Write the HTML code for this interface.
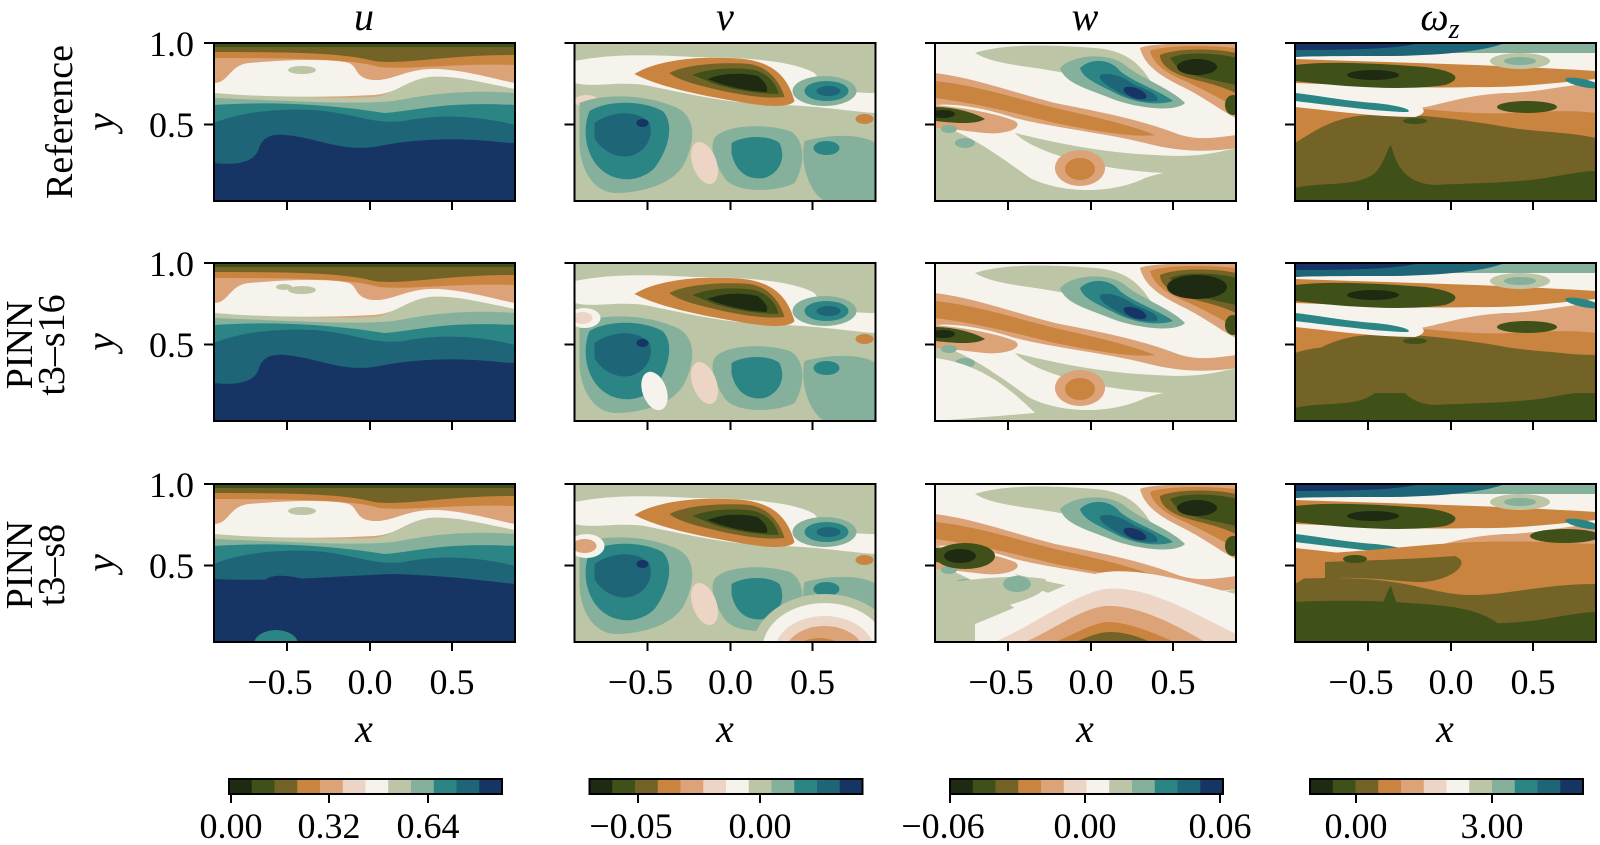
<!DOCTYPE html>
<html><head><meta charset="utf-8"><style>
html,body{margin:0;padding:0;background:#fff;}
svg{display:block;}
.a0{fill:#1f2a12}.a1{fill:#3f5019}.a2{fill:#746326}.a3{fill:#c9843f}.a4{fill:#dca278}.a5{fill:#ecd5c5}.a6{fill:#f6f2ec}.a7{fill:#bcc5a5}.a8{fill:#84b09c}.a9{fill:#2b8585}.a10{fill:#1e6577}.a11{fill:#163564}
text{font-family:"Liberation Serif",serif;fill:#000;}
.t{font-size:36px;}
.i{font-style:italic;font-size:40px;}
</style></head><body>
<svg width="1600" height="845" viewBox="0 0 1600 845" xmlns="http://www.w3.org/2000/svg">
<defs>
<clipPath id="cp"><rect x="0" y="0" width="301" height="158"/></clipPath>
<g id="cb">
<rect x="0" y="0" width="23" height="15" class="a0"/><rect x="22.75" y="0" width="23" height="15" class="a1"/><rect x="45.5" y="0" width="23" height="15" class="a2"/><rect x="68.25" y="0" width="23" height="15" class="a3"/><rect x="91" y="0" width="23" height="15" class="a4"/><rect x="113.75" y="0" width="23" height="15" class="a5"/><rect x="136.5" y="0" width="23" height="15" class="a6"/><rect x="159.25" y="0" width="23" height="15" class="a7"/><rect x="182" y="0" width="23" height="15" class="a8"/><rect x="204.75" y="0" width="23" height="15" class="a9"/><rect x="227.5" y="0" width="23" height="15" class="a10"/><rect x="250.25" y="0" width="22.75" height="15" class="a11"/>
<rect x="0" y="0" width="273" height="15" fill="none" stroke="#000" stroke-width="2"/>
</g>
<g id="U">
<rect width="301" height="158" class="a1"/>
<rect y="4" width="301" height="154" class="a2"/>
<path class="a3" d="M0,9 C80,9 130,10 160,18 C190,22 230,12 301,12 V158 H0Z"/>
<path class="a4" d="M0,15 C80,15 140,16 165,24 C195,27 240,20 301,22 V158H0Z"/>
<path class="a7" d="M0,50 C60,53 120,56 160,54 C180,52 185,36 215,34 C250,33 280,42 301,46 V158H0Z"/>
<path class="a6" d="M0,40 C15,40 15,22 35,20 C80,16 120,16 135,20 C145,24 140,38 165,37 C185,35 195,25 225,26 C255,28 280,36 301,40 V46 C270,40 240,32 215,34 C190,38 185,50 160,52 C100,55 50,54 0,50Z"/>
<ellipse cx="88" cy="27" rx="14" ry="4" class="a7"/>
<path class="a8" d="M0,55 C80,58 140,62 180,58 C210,52 250,46 301,50 V158H0Z"/>
<path class="a9" d="M0,62 C60,58 120,62 170,70 C200,68 230,58 301,62 V158H0Z"/>
<path class="a10" d="M0,80 C20,72 50,65 100,67 C140,70 160,82 190,78 C230,70 270,74 301,82 V158H0Z"/>
<path class="a11" d="M0,120 C25,123 42,118 45,105 C50,92 60,90 80,93 C110,98 130,108 160,104 C190,98 220,95 260,97 C280,98 290,100 301,100 V158H0Z"/>
</g>
<g id="V">
<rect width="301" height="158" class="a7"/>
<path class="a6" d="M0,18 C40,10 80,12 120,14 C170,14 220,18 240,30 C250,45 270,50 301,50 V70 C270,68 240,62 200,62 C150,60 110,50 70,42 C40,38 20,45 0,40Z"/>
<ellipse cx="12" cy="58" rx="12" ry="6" class="a5"/>
<path class="a3" d="M60,31 C80,18 120,13 155,15 C195,16 212,30 220,58 C215,66 185,63 160,58 C125,52 85,44 60,31Z"/>
<path class="a2" d="M95,30 C112,21 150,19 175,21 C195,24 206,40 210,54 C190,56 165,52 140,46 C118,41 102,36 95,30Z"/>
<path class="a1" d="M118,32 C135,25 160,24 180,27 C196,32 202,42 204,51 C185,51 160,47 140,41Z"/>
<path class="a0" d="M133,36 C150,29 170,30 183,33 C192,40 194,45 192,49 C175,48 155,45 133,36Z"/>
<ellipse cx="250" cy="48" rx="32" ry="15" class="a8"/>
<ellipse cx="252" cy="48" rx="22" ry="10" class="a9"/>
<ellipse cx="254" cy="48" rx="12" ry="5" class="a10"/>
<path class="a8" d="M5,60 C30,50 70,52 95,62 C125,70 120,100 110,120 C100,140 70,150 40,150 C15,148 5,120 5,100Z"/>
<path class="a9" d="M15,68 C35,56 70,58 88,68 C100,80 95,105 80,125 C65,140 40,140 25,125 C10,110 8,85 15,68Z"/>
<path class="a10" d="M20,80 C40,66 65,68 75,80 C80,95 70,110 55,113 C40,116 25,105 20,95Z"/>
<ellipse cx="68" cy="80" rx="6" ry="4" class="a11"/>
<path class="a8" d="M140,95 C150,82 190,80 215,88 C230,95 232,120 220,140 C200,150 160,150 150,135 C140,120 135,105 140,95Z"/>
<path class="a8" d="M230,98 C260,90 290,92 301,100 V158 H250 C235,150 225,120 230,98Z"/>
<path class="a9" d="M157,100 C170,92 195,92 205,100 C212,115 205,130 190,135 C170,138 160,125 157,110Z"/>
<ellipse cx="252" cy="105" rx="13" ry="7" class="a9"/>
<ellipse cx="130" cy="120" rx="12" ry="22" class="a5" transform="rotate(-20 130 120)"/>
<ellipse cx="290" cy="76" rx="9" ry="5" class="a3"/>
</g>
<g id="W">
<rect width="301" height="158" class="a6"/>
<path class="a7" d="M0,82 C30,88 60,110 95,135 C130,152 180,150 210,135 C240,125 270,125 301,118 V158 H0Z"/>
<path class="a7" d="M80,90 C120,100 170,110 220,112 C260,115 280,110 301,105 V125 C260,135 200,130 150,120 C110,110 90,100 80,90Z"/>
<path class="a7" d="M40,10 C70,0 120,2 160,5 C200,8 210,30 220,45 C200,50 160,40 130,30 C90,22 60,22 40,10Z"/>
<path class="a4" d="M0,30 C40,35 80,50 120,60 C160,68 200,75 240,90 C260,98 280,95 301,92 V105 C270,110 240,108 210,100 C170,90 120,85 80,75 C50,65 20,60 0,62Z"/>
<path class="a3" d="M0,38 C40,42 80,55 120,65 C150,72 190,80 220,92 C200,95 160,88 120,80 C80,70 40,60 0,55Z"/>
<path class="a4" d="M0,62 C30,65 60,70 80,78 C90,85 70,92 50,90 C30,88 10,85 0,85Z"/>
<path class="a1" d="M0,64 C20,64 40,70 50,76 C40,82 20,80 0,78Z"/>
<ellipse cx="8" cy="71" rx="12" ry="4" class="a0"/>
<path class="a8" d="M125,25 C140,10 175,10 190,22 C205,35 235,45 250,60 C240,70 200,65 175,55 C150,45 130,40 125,25Z"/>
<path class="a9" d="M145,25 C155,15 175,15 185,28 C200,40 225,48 238,58 C220,64 195,58 180,50 C160,40 148,35 145,25Z"/>
<path class="a10" d="M165,32 C175,28 190,35 200,42 C215,48 225,52 222,58 C205,60 190,54 178,46 C168,40 164,36 165,32Z"/>
<ellipse cx="200" cy="50" rx="12" ry="5" class="a11" transform="rotate(20 200 50)"/>
<path class="a4" d="M205,5 C215,0 260,0 301,0 V75 C290,70 270,55 250,45 C230,35 210,25 205,5Z"/>
<path class="a3" d="M215,8 C230,2 270,2 301,5 V65 C285,55 265,45 250,38 C230,30 218,20 215,8Z"/>
<path class="a2" d="M225,12 C240,5 280,5 301,10 V50 C280,40 260,38 245,32 C230,26 225,18 225,12Z"/>
<path class="a1" d="M235,15 C250,8 285,10 301,15 V42 C285,38 260,34 245,28Z"/>
<ellipse cx="262" cy="24" rx="20" ry="8" class="a0"/>
<ellipse cx="298" cy="62" rx="8" ry="10" class="a1"/>
<ellipse cx="145" cy="125" rx="25" ry="18" class="a4"/>
<ellipse cx="145" cy="126" rx="15" ry="11" class="a3"/>
<ellipse cx="14" cy="86" rx="8" ry="4" class="a8"/>
<ellipse cx="30" cy="100" rx="10" ry="5" class="a8"/>
</g>
<g id="Z">
<rect width="301" height="158" class="a2"/>
<path class="a1" d="M0,145 C30,138 60,145 80,130 C90,120 92,105 96,102 C100,115 105,140 140,142 C180,140 220,140 250,135 C280,130 290,128 301,128 V158 H0Z"/>
<path class="a3" d="M0,0 H301 V95 C270,88 240,90 200,82 C160,76 120,70 80,72 C40,72 20,88 0,100Z"/>
<path class="a4" d="M0,0 H301 V70 C260,65 220,72 180,70 C140,68 100,62 60,62 C30,62 10,62 0,62Z"/>
<path class="a6" d="M0,0 H301 V40 C270,42 240,50 210,50 C170,52 145,62 120,66 C90,66 50,56 0,50Z"/>
<path class="a3" d="M0,16 C60,18 120,20 180,22 C230,24 270,26 301,28 V36 C260,40 220,45 180,44 C120,46 60,42 0,40Z"/>
<path class="a1" d="M0,22 C30,18 80,20 130,24 C160,28 170,35 150,42 C110,48 50,44 0,38Z"/>
<ellipse cx="78" cy="32" rx="26" ry="5" class="a0"/>
<rect width="301" height="10" class="a8"/>
<path class="a10" d="M0,0 H210 C190,8 150,12 100,13 C60,13 20,13 0,14Z"/>
<path class="a11" d="M0,0 H125 C100,6 60,7 0,7Z"/>
<path class="a6" d="M0,44 C30,48 70,54 110,58 C130,62 135,70 120,74 C80,74 40,68 0,64Z"/>
<path class="a9" d="M0,50 C20,52 50,58 80,60 C100,62 118,66 113,69 C90,69 50,64 0,58Z"/>
<ellipse cx="225" cy="18" rx="30" ry="8" class="a7"/>
<ellipse cx="225" cy="18" rx="16" ry="4" class="a8"/>
<ellipse cx="288" cy="40" rx="18" ry="4" class="a9" transform="rotate(12 288 40)"/>
<ellipse cx="232" cy="64" rx="30" ry="6" class="a1"/>
<ellipse cx="120" cy="78" rx="12" ry="3" class="a1"/>
</g>
</defs>

<!-- titles -->
<text class="i" x="364" y="30" text-anchor="middle">u</text>
<text class="i" x="725" y="30" text-anchor="middle">v</text>
<text class="i" x="1085" y="30" text-anchor="middle">w</text>
<text class="i" x="1440" y="30" text-anchor="middle">ω<tspan font-size="28" dy="8">z</tspan></text>

<!-- row labels -->
<text transform="translate(72,122) rotate(-90)" text-anchor="middle" style="font-size:38px">Reference</text>
<text transform="translate(32,345) rotate(-90)" text-anchor="middle" style="font-size:38px">PINN</text>
<text transform="translate(64,345) rotate(-90)" text-anchor="middle" style="font-size:38px">t3–s16</text>
<text transform="translate(32,565) rotate(-90)" text-anchor="middle" style="font-size:38px">PINN</text>
<text transform="translate(64,565) rotate(-90)" text-anchor="middle" style="font-size:38px">t3–s8</text>
<text class="i" transform="translate(114,122) rotate(-90)" text-anchor="middle">y</text>
<text class="i" transform="translate(114,342) rotate(-90)" text-anchor="middle">y</text>
<text class="i" transform="translate(114,563) rotate(-90)" text-anchor="middle">y</text>

<!-- y tick labels -->
<text class="t" x="194" y="56" text-anchor="end">1.0</text>
<text class="t" x="194" y="137" text-anchor="end">0.5</text>
<text class="t" x="194" y="276" text-anchor="end">1.0</text>
<text class="t" x="194" y="357" text-anchor="end">0.5</text>
<text class="t" x="194" y="497" text-anchor="end">1.0</text>
<text class="t" x="194" y="578" text-anchor="end">0.5</text>

<!-- panels -->
<g transform="translate(214,43)"><g clip-path="url(#cp)"><use href="#U"/></g></g>
<g transform="translate(574.5,43)"><g clip-path="url(#cp)"><use href="#V"/></g></g>
<g transform="translate(935,43)"><g clip-path="url(#cp)"><use href="#W"/></g></g>
<g transform="translate(1295,43)"><g clip-path="url(#cp)"><use href="#Z"/></g></g>

<g transform="translate(214,263)"><g clip-path="url(#cp)"><use href="#U"/><ellipse cx="70" cy="24" rx="8" ry="3" class="a7"/></g></g>
<g transform="translate(574.5,263)"><g clip-path="url(#cp)"><use href="#V"/><ellipse cx="10" cy="55" rx="16" ry="10" class="a6"/><ellipse cx="8" cy="55" rx="10" ry="6" class="a5"/><ellipse cx="80" cy="128" rx="12" ry="20" class="a6" transform="rotate(-20 80 128)"/></g></g>
<g transform="translate(935,263)"><g clip-path="url(#cp)"><use href="#W"/><path class="a6" d="M0,95 C40,100 70,120 100,150 L0,158Z"/><ellipse cx="262" cy="24" rx="30" ry="12" class="a0"/></g></g>
<g transform="translate(1295,263)"><g clip-path="url(#cp)"><use href="#Z"/><path class="a2" d="M0,90 C30,80 60,85 100,82 C160,80 220,90 301,92 V130 H0Z"/></g></g>

<g transform="translate(214,484)"><g clip-path="url(#cp)"><use href="#U"/><path class="a11" d="M0,95 C60,98 120,92 180,90 C240,92 280,98 301,100 V158H0Z"/><ellipse cx="62" cy="160" rx="22" ry="14" class="a9"/></g></g>
<g transform="translate(574.5,484)"><g clip-path="url(#cp)"><use href="#V"/><ellipse cx="250" cy="165" rx="72" ry="55" class="a7"/><ellipse cx="250" cy="165" rx="62" ry="46" class="a6"/><ellipse cx="250" cy="168" rx="50" ry="36" class="a5"/><ellipse cx="250" cy="170" rx="40" ry="28" class="a4"/><ellipse cx="245" cy="172" rx="28" ry="18" class="a3"/><ellipse cx="12" cy="62" rx="18" ry="12" class="a6"/><ellipse cx="10" cy="62" rx="12" ry="7" class="a4"/></g></g>
<g transform="translate(935,484)"><g clip-path="url(#cp)"><use href="#W"/><path class="a6" d="M40,140 C90,120 130,100 160,90 C200,80 260,100 301,110 V158 H40Z"/><path class="a5" d="M60,158 C100,140 140,110 170,105 C210,100 260,130 301,150 V158Z"/><path class="a4" d="M90,158 C120,145 145,125 170,122 C200,120 240,140 270,158Z"/><path class="a3" d="M120,158 C140,150 155,140 172,138 C195,138 220,150 240,158Z"/><path class="a2" d="M140,158 C155,152 165,148 175,148 C190,148 205,153 215,158Z"/><path class="a7" d="M0,100 C40,95 80,90 110,95 C120,110 80,120 40,130 C20,135 5,140 0,140Z"/><ellipse cx="82" cy="100" rx="14" ry="8" class="a8"/><ellipse cx="30" cy="72" rx="30" ry="13" class="a1"/><ellipse cx="25" cy="72" rx="16" ry="7" class="a0"/></g></g>
<g transform="translate(1295,484)"><g clip-path="url(#cp)"><use href="#Z"/><path class="a3" d="M0,70 C60,70 120,60 180,58 C240,56 280,60 301,60 V100 C240,100 200,115 160,110 C120,105 100,90 0,95Z"/><path class="a2" d="M30,78 C80,76 120,75 160,72 C180,80 150,100 120,98 C90,96 60,92 30,95Z"/><path class="a1" d="M0,118 C60,115 110,118 150,122 C200,128 210,145 220,158 H0Z"/><ellipse cx="60" cy="75" rx="12" ry="4" class="a1"/><ellipse cx="270" cy="52" rx="35" ry="7" class="a1"/></g></g>

<!-- frames and ticks -->
<g fill="none" stroke="#000" stroke-width="2">
<rect x="214" y="43" width="301" height="158"/><rect x="574.5" y="43" width="301" height="158"/><rect x="935" y="43" width="301" height="158"/><rect x="1295" y="43" width="301" height="158"/>
<rect x="214" y="263" width="301" height="158"/><rect x="574.5" y="263" width="301" height="158"/><rect x="935" y="263" width="301" height="158"/><rect x="1295" y="263" width="301" height="158"/>
<rect x="214" y="484" width="301" height="158"/><rect x="574.5" y="484" width="301" height="158"/><rect x="935" y="484" width="301" height="158"/><rect x="1295" y="484" width="301" height="158"/>
<path d="
M204,43h10M204,124.5h10M564.5,43h10M564.5,124.5h10M925,43h10M925,124.5h10M1285,43h10M1285,124.5h10
M204,263h10M204,344.5h10M564.5,263h10M564.5,344.5h10M925,263h10M925,344.5h10M1285,263h10M1285,344.5h10
M204,484h10M204,565.5h10M564.5,484h10M564.5,565.5h10M925,484h10M925,565.5h10M1285,484h10M1285,565.5h10
M287,201v9M370,201v9M452,201v9M647.5,201v9M730.5,201v9M812.5,201v9M1008,201v9M1091,201v9M1173,201v9M1368,201v9M1451,201v9M1533,201v9
M287,421v9M370,421v9M452,421v9M647.5,421v9M730.5,421v9M812.5,421v9M1008,421v9M1091,421v9M1173,421v9M1368,421v9M1451,421v9M1533,421v9
M287,642v9M370,642v9M452,642v9M647.5,642v9M730.5,642v9M812.5,642v9M1008,642v9M1091,642v9M1173,642v9M1368,642v9M1451,642v9M1533,642v9
M231,794v9M329,794v9M428,794v9
M638,794v9M760,794v9
M950,794v9M1085,794v9M1220,794v9
M1356,794v9M1492,794v9"/>
</g>

<!-- x tick labels -->
<g class="t" text-anchor="middle">
<text x="280" y="694">−0.5</text><text x="370" y="694">0.0</text><text x="452" y="694">0.5</text>
<text x="640.5" y="694">−0.5</text><text x="730.5" y="694">0.0</text><text x="812.5" y="694">0.5</text>
<text x="1001" y="694">−0.5</text><text x="1091" y="694">0.0</text><text x="1173" y="694">0.5</text>
<text x="1361" y="694">−0.5</text><text x="1451" y="694">0.0</text><text x="1533" y="694">0.5</text>
</g>
<text class="i" x="364" y="742" text-anchor="middle">x</text>
<text class="i" x="725" y="742" text-anchor="middle">x</text>
<text class="i" x="1085" y="742" text-anchor="middle">x</text>
<text class="i" x="1445" y="742" text-anchor="middle">x</text>

<!-- colorbars -->
<use href="#cb" x="229" y="779"/>
<use href="#cb" x="589.5" y="779"/>
<use href="#cb" x="950" y="779"/>
<use href="#cb" x="1310" y="779"/>
<g class="t" text-anchor="middle">
<text x="231" y="838">0.00</text><text x="329" y="838">0.32</text><text x="428" y="838">0.64</text>
<text x="631" y="838">−0.05</text><text x="760" y="838">0.00</text>
<text x="943" y="838">−0.06</text><text x="1085" y="838">0.00</text><text x="1220" y="838">0.06</text>
<text x="1356" y="838">0.00</text><text x="1492" y="838">3.00</text>
</g>
</svg>
</body></html>
